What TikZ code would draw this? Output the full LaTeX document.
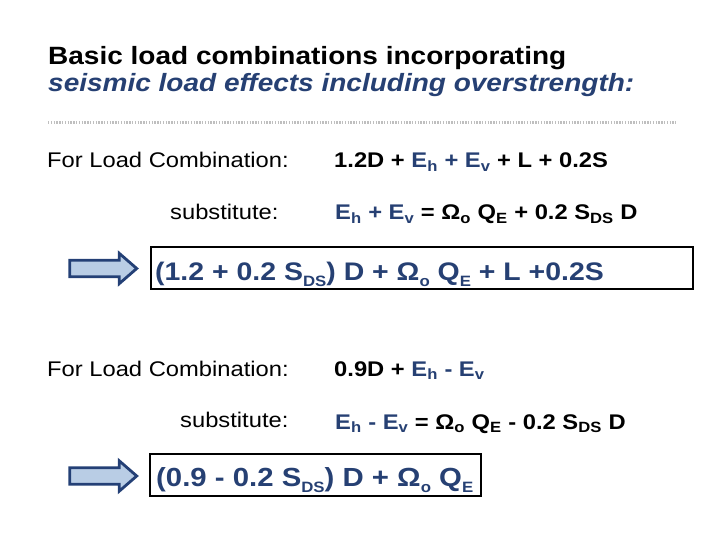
\documentclass[tikz,border=0pt]{standalone}
\usepackage{fontspec}
\setmainfont{Liberation Sans}[FakeStretch=1.12]
\usetikzlibrary{calc,shapes.arrows}
\definecolor{dkblue}{RGB}{38,64,115}
\definecolor{arrowfill}{RGB}{185,205,229}
\definecolor{arrowline}{RGB}{36,64,118}
\newcommand{\bsub}[1]{\raisebox{-0.24em}{\fontsize{15}{15}\selectfont #1}}

\begin{document}
\begin{tikzpicture}[x=1pt,y=-1pt]
    \tikzstyle{every node}=[inner sep=0, anchor=base west]
    \tikzstyle{ttl}=[font=\fontsize{25}{30}\selectfont\bfseries]
    \tikzstyle{txt}=[font=\fontsize{21.2}{25}\selectfont]
    \tikzstyle{eq}=[font=\fontsize{21.2}{25}\selectfont\bfseries]
    \tikzstyle{res}=[font=\fontsize{25.4}{30}\selectfont\bfseries, text=dkblue]
    \tikzstyle{resbox}=[draw, line width=1.5pt]
    \tikzstyle{blockarrow}=[single arrow, draw=arrowline, fill=arrowfill, line width=2.8pt, anchor=center,
        minimum height=67, minimum width=29, inner sep=6.8, single arrow head extend=7, single arrow tip angle=82]
    \useasboundingbox (0,0) rectangle (720,540);
    % heading
    \node[ttl] (T1) at (48,65) {Basic load combinations incorporating};
    \node[ttl, text=dkblue] (T2) at (48,92) {\itshape seismic load effects including overstrength:};
    \coordinate (DL) at (48,123);
    \coordinate (DR) at (676,123);
    \draw[gray!50, line width=3pt, dash pattern=on 1.4pt off 1.4pt] (DL) -- (DR);
    % first combination
    \node[txt] (LC1) at (47,168) {For Load Combination:};
    \node[txt] (SB1) at (170,219) {substitute:};
    \node[eq] (EQ1) at (334,168) {1.2D + {\color{dkblue}E\textsubscript{h} + E\textsubscript{v}} + L + 0.2S};
    \node[eq] (EQ2) at (335,220) {{\color{dkblue}E\textsubscript{h} + E\textsubscript{v}} = Ω\textsubscript{o} Q\textsubscript{E} + 0.2 S\textsubscript{DS} D};
    \node[blockarrow] (A1) at (98.5,268.5) {};
    \draw[resbox] (151,247) rectangle (693,289);
    \node[res] (R1) at (155,280) {(1.2 + 0.2 S\bsub{DS}) D + Ω\bsub{o} Q\bsub{E} + L +0.2S};
    % second combination
    \node[txt] (LC2) at (47,376) {For Load Combination:};
    \node[txt] (SB2) at (180,427) {substitute:};
    \node[eq] (EQ3) at (334,376) {0.9D + {\color{dkblue}E\textsubscript{h} - E\textsubscript{v}}};
    \node[eq] (EQ4) at (335,429) {{\color{dkblue}E\textsubscript{h} - E\textsubscript{v}} = Ω\textsubscript{o} Q\textsubscript{E} - 0.2 S\textsubscript{DS} D};
    \node[blockarrow] (A2) at (98.5,476) {};
    \draw[resbox] (150,454) rectangle (481,496);
    \node[res, font=\fontsize{26.2}{30}\selectfont\bfseries] (R2) at (156,486) {(0.9 - 0.2 S\bsub{DS}) D + Ω\bsub{o} Q\bsub{E}};
\end{tikzpicture}
\end{document}
